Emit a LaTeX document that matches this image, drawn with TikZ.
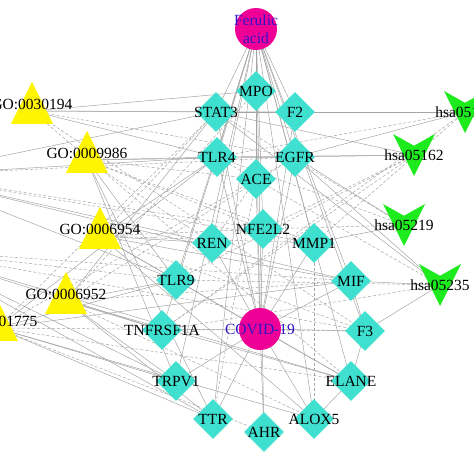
\documentclass[tikz,border=0pt]{standalone}
\usepackage{fontspec}
\setmainfont{Liberation Serif}
\usetikzlibrary{shapes.geometric,calc}
\pgfdeclarelayer{edgelayer}
\pgfsetlayers{edgelayer,main}
\definecolor{turq}{RGB}{64,224,208}
\definecolor{hotpink}{RGB}{238,0,150}
\definecolor{goyellow}{RGB}{255,245,0}
\definecolor{kegggreen}{RGB}{30,235,30}
\definecolor{labelblue}{RGB}{50,20,200}
\definecolor{edgegray}{RGB}{165,165,165}
\newcommand{\lblfont}{\fontsize{15.5}{18}\selectfont}

\begin{document}
\begin{tikzpicture}[x=1pt, y=-1pt,
  every label/.style={font=\lblfont, inner sep=0pt},
  herb/.style={circle, fill=hotpink, minimum size=42pt, inner sep=0pt,
    label={[text=labelblue, align=center]center:#1}},
  target/.style={diamond, fill=turq, minimum size=40pt, inner sep=0pt, label={center:#1}},
  goterm/.style={isosceles triangle, shape border rotate=90, isosceles triangle stretches,
    fill=goyellow, minimum width=42pt, minimum height=42pt, inner sep=0pt,
    label={[yshift=7pt]center:#1}},
  pathway/.style={rectangle, minimum size=42pt, inner sep=0pt, label={center:#1},
    path picture={\fill[kegggreen] (path picture bounding box.north west)
      -- ($(path picture bounding box.north)!0.28!(path picture bounding box.south)$)
      -- (path picture bounding box.north east) -- (path picture bounding box.south) -- cycle;}},
  link/.style={draw=edgegray, line width=0.5pt},
  dlink/.style={link, dash pattern=on 3pt off 2pt}
]
  \useasboundingbox (0,0) rectangle (474,474);
  % Compound and disease
  \node[herb={Ferulic\\acid}] (fa)  at (256,29) {};
  \node[herb={COVID-19}]      (cov) at (260,329) {};
  % Targets
  \node[target=MPO]      (mpo)    at (256,91) {};
  \node[target=STAT3]    (stat3)  at (216,112) {};
  \node[target=F2]       (f2)     at (295,112) {};
  \node[target=TLR4]     (tlr4)   at (217,157) {};
  \node[target=EGFR]     (egfr)   at (295,157) {};
  \node[target=ACE]      (ace)    at (256,179) {};
  \node[target=NFE2L2]   (nfe2l2) at (263,229) {};
  \node[target=REN]      (ren)    at (212,243) {};
  \node[target=MMP1]     (mmp1)   at (314,243) {};
  \node[target=TLR9]     (tlr9)   at (176,280) {};
  \node[target=MIF]      (mif)    at (351,281) {};
  \node[target=TNFRSF1A] (tnf)    at (162,330) {};
  \node[target=F3]       (f3)     at (365,331) {};
  \node[target=TRPV1]    (trpv1)  at (176,381) {};
  \node[target=ELANE]    (elane)  at (351,381) {};
  \node[target=TTR]      (ttr)    at (213,419) {};
  \node[target=ALOX5]    (alox5)  at (314,419) {};
  \node[target=AHR]      (ahr)    at (264,432) {};
  % GO terms
  \node[goterm=GO:0030194] (go30194) at (32,111) {};
  \node[goterm=GO:0009986] (go9986)  at (87,160) {};
  \node[goterm=GO:0006954] (go6954)  at (100,236) {};
  \node[goterm=GO:0006952] (go6952)  at (66,301) {};
  \node[goterm=GO:0001775] (go1775)  at (-3,328) {};
  % KEGG pathways
  \node[pathway=hsa05171] (k05171) at (465,112) {};
  \node[pathway=hsa05162] (k05162) at (414,155) {};
  \node[pathway=hsa05219] (k05219) at (404,225) {};
  \node[pathway=hsa05235] (k05235) at (440,285) {};
  % terms outside the frame
  \coordinate (offa) at (-90,175);
  \coordinate (offb) at (-90,250);

  \begin{pgfonlayer}{edgelayer}
    % compound and disease to every target
    \foreach \t in {mpo,stat3,f2,tlr4,egfr,ace,nfe2l2,ren,mmp1,tlr9,mif,tnf,f3,trpv1,elane,ttr,alox5,ahr}{
      \draw[link] (fa.center) -- (\t.center);
      \draw[link] (cov.center) -- (\t.center);
    }
    % solid links
    \foreach \s/\ts in {go30194/{mpo,stat3,tlr4,f2},
                        go9986/{tlr4,egfr,tlr9,trpv1,ttr},
                        go6954/{tlr4,ren,tlr9,alox5,elane,mif},
                        go6952/{tlr9,tnf,trpv1,ttr,elane,stat3},
                        go1775/{tlr4,tlr9,trpv1,ttr,mif,alox5},
                        k05171/{f2,stat3,egfr},
                        k05162/{egfr,tlr4,stat3},
                        k05219/{egfr,mmp1},
                        k05235/{mif,stat3,egfr,f3},
                        offa/{stat3,tlr4,ren,tlr9,mif},
                        offb/{tnf,trpv1,ttr,elane},
                        elane/{f3,alox5},
                        f3/{mif}}
      \foreach \t in \ts {\draw[link] (\s.center) -- (\t.center);}
    % dashed links
    \foreach \s/\ts in {go30194/{f3,egfr,elane},
                        go9986/{ace,mmp1,ren,nfe2l2},
                        go6954/{stat3,nfe2l2,mmp1,f3},
                        go6952/{mpo,mif,alox5,egfr},
                        go1775/{stat3,egfr,elane,ahr,f3},
                        k05171/{tlr4,tnf,mmp1},
                        k05162/{tlr9,nfe2l2,tnf},
                        k05219/{stat3,tlr4,nfe2l2},
                        k05235/{tlr4,tnf,tlr9},
                        offa/{egfr,nfe2l2,mmp1},
                        offb/{tlr9,mif,f3},
                        ace/{ren,ttr},
                        mmp1/{alox5}}
      \foreach \t in \ts {\draw[dlink] (\s.center) -- (\t.center);}
  \end{pgfonlayer}
\end{tikzpicture}
\end{document}
